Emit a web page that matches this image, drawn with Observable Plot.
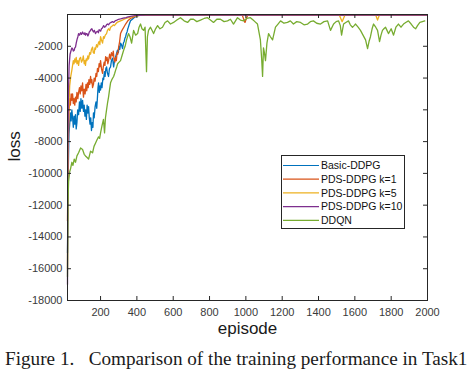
<!DOCTYPE html>
<html><head><meta charset="utf-8">
<script src="https://cdn.jsdelivr.net/npm/d3@7"></script>
<script src="https://cdn.jsdelivr.net/npm/@observablehq/plot@0.6"></script>
<style>
html,body{margin:0;padding:0;background:#fff;}
body{width:474px;height:371px;overflow:hidden;position:relative;font-family:"Liberation Sans",Arial,sans-serif;}
#chart{position:absolute;left:0;top:0;}
#cap{position:absolute;left:5px;top:349px;font-family:"Liberation Serif","Times New Roman",serif;font-size:19.2px;white-space:nowrap;color:#1a1a1a;line-height:20px;}
</style></head>
<body><div id="chart"></div><div id="cap">Figure 1.&nbsp;&nbsp;&nbsp;Comparison of the training performance in Task1</div>
<script>
const seriesNames = ["Basic-DDPG", "PDS-DDPG k=1", "PDS-DDPG k=5", "PDS-DDPG k=10", "DDQN"];
const seriesColors = ["#0072BD", "#D95319", "#EDB120", "#7E2F8E", "#77AC30"];
const xTicks = [200, 400, 600, 800, 1000, 1200, 1400, 1600, 1800, 2000];
const yTicks = [-18000, -16000, -14000, -12000, -10000, -8000, -6000, -4000, -2000];

const epBasic = [18,22,26,30,34,38,42,46,50,54,58,62,66,70,74,79,84,88,92,97,101,106,110,114,118,122,126,130,134,138,142,146,150,154,158,161,165,170,175,179,183,186,189,193,197,200,204,208,213,217,221,225,229,233,238,244,249,255,260,266,272,277,282,287,293,298,302,306,310,315,321,326,330,334,338,342,346,350,353,357,360,365,370,375,384,395,411,450,500,800,1200,1600,2000];
const lossBasic = [-15000,-10000,-7500,-6900,-6200,-6700,-6000,-6500,-7100,-6400,-6900,-6300,-7200,-6800,-6000,-6300,-5500,-6100,-5300,-5900,-5400,-6100,-5700,-6400,-6000,-6600,-5700,-6200,-5800,-6500,-6900,-6500,-7300,-6800,-7100,-6200,-6500,-5800,-5500,-5900,-5200,-4600,-4300,-4900,-4500,-4750,-4300,-4600,-4000,-4100,-3600,-3900,-3400,-3300,-3700,-3900,-3400,-3300,-2900,-2750,-3300,-2900,-2700,-2500,-2250,-2400,-2000,-2200,-1800,-1900,-2150,-1800,-1700,-1500,-1400,-1200,-1100,-900,-800,-650,-550,-400,-350,-300,-200,-120,-60,-40,-30,-35,-30,-35,-30];

const epK1 = [18,22,26,30,34,38,42,46,50,54,58,62,66,70,75,79,84,88,92,96,101,104,106,110,115,120,124,128,132,136,140,145,149,152,156,161,165,170,175,179,183,188,192,196,200,205,211,215,220,224,228,232,236,240,244,250,255,260,266,270,274,279,283,287,291,295,299,305,310,318,328,338,350,365,385,404,440,500,980,995,1010,1400,2000];
const lossK1 = [-13000,-8500,-6200,-5300,-5700,-5000,-5400,-5000,-5600,-5300,-5700,-5200,-5500,-4900,-5300,-4900,-4600,-5000,-4500,-4800,-4300,-4900,-5200,-4700,-5000,-4400,-4800,-4300,-4600,-4100,-4400,-3900,-4300,-4100,-4600,-4400,-4000,-4200,-3700,-3900,-3400,-3600,-3100,-3300,-2900,-3400,-3700,-3300,-3000,-3200,-2650,-2900,-2700,-3100,-2900,-2500,-2800,-2400,-2600,-2300,-2800,-3000,-2700,-2900,-2400,-2500,-2100,-1700,-1200,-1000,-800,-600,-400,-250,-150,-60,-40,-30,-40,-500,-40,-35,-30];

const epK5 = [18,21,25,30,36,42,46,50,54,58,62,66,70,75,79,84,90,95,101,105,110,114,117,121,125,130,134,140,145,150,156,160,165,169,172,178,183,188,192,196,200,205,211,216,220,226,233,238,244,250,255,262,270,276,283,291,300,310,320,330,340,355,370,385,400,420,440,500,1515,1530,1545,1715,1725,1735,2000];
const lossK5 = [-16000,-9000,-6000,-4500,-3900,-3500,-3200,-2900,-3100,-2800,-3000,-2700,-3100,-2900,-3200,-2800,-2700,-3000,-2850,-2600,-3100,-2900,-3200,-2800,-2900,-2600,-2800,-2400,-2500,-2200,-2050,-2400,-2450,-2100,-2200,-1900,-2050,-1800,-1700,-1900,-1400,-1600,-1800,-1400,-1500,-1300,-1200,-1000,-900,-1000,-800,-750,-650,-700,-600,-500,-450,-400,-350,-300,-250,-200,-150,-120,-80,-50,-40,-30,-40,-450,-40,-40,-350,-40,-30];

const epK10 = [18,20,23,27,32,38,42,46,50,55,58,62,66,70,75,79,84,90,95,101,105,110,114,117,121,125,130,134,138,142,147,152,156,161,166,172,177,183,188,192,196,200,205,210,217,222,228,233,238,244,250,258,266,273,280,290,299,310,320,330,340,352,365,380,400,450,2000];
const lossK10 = [-17000,-9000,-5000,-3200,-2500,-2250,-2100,-2150,-2300,-2250,-2100,-2050,-1800,-1600,-1400,-1200,-1300,-1150,-1250,-1100,-1200,-1250,-1150,-1300,-1200,-1200,-1350,-1250,-1100,-1050,-950,-900,-1000,-1100,-1000,-1200,-1100,-1050,-1150,-950,-1000,-1050,-900,-850,-700,-800,-750,-650,-600,-650,-550,-500,-450,-500,-400,-350,-300,-280,-250,-220,-200,-150,-120,-90,-60,-40,-30];

const epDDQN = [18,20,24,30,35,42,48,55,62,70,79,90,101,110,117,126,134,145,156,164,172,180,189,195,200,208,216,222,227,233,238,244,250,255,262,272,278,283,289,294,302,310,318,327,335,343,354,362,371,382,393,404,412,420,428,437,445,453,458,464,475,492,503,514,527,541,555,569,585,602,620,640,660,679,695,712,730,750,770,789,805,822,840,860,880,899,915,932,954,970,987,1005,1025,1045,1064,1080,1087,1092,1097,1102,1108,1116,1125,1135,1147,1163,1177,1191,1210,1229,1245,1262,1280,1301,1320,1340,1355,1372,1390,1411,1430,1450,1466,1483,1497,1510,1520,1527,1533,1538,1550,1565,1575,1587,1596,1604,1618,1631,1645,1659,1670,1678,1686,1695,1703,1715,1725,1736,1744,1752,1760,1769,1777,1785,1800,1813,1826,1840,1854,1868,1880,1895,1910,1923,1935,1945,1958,1972,1985,2000];
const lossDDQN = [-16500,-12000,-10500,-9900,-9700,-9300,-9500,-9100,-9300,-8900,-8700,-8400,-8500,-8800,-8900,-9000,-9100,-8600,-8700,-8300,-8100,-7900,-7700,-7800,-7450,-7000,-6600,-7450,-6500,-6000,-5600,-5200,-4700,-4300,-4100,-3900,-3700,-3500,-3300,-3100,-3000,-2900,-2600,-2250,-2000,-1600,-1200,-1400,-1800,-1000,-1300,-1200,-800,-600,-900,-1000,-800,-3600,-1400,-1000,-800,-1200,-900,-700,-900,-800,-500,-400,-600,-500,-350,-200,-400,-500,-300,-300,-450,-350,-250,-200,-350,-500,-300,-300,-450,-400,-300,-600,-200,-350,-400,-250,-200,-400,-600,-1600,-2800,-3900,-2100,-2400,-2900,-1800,-1200,-1400,-1600,-800,-600,-400,-550,-500,-400,-600,-450,-500,-650,-600,-450,-400,-550,-600,-450,-400,-1000,-600,-450,-400,-700,-1300,-900,-600,-500,-400,-650,-800,-700,-600,-800,-1000,-1300,-1600,-2150,-1700,-1400,-900,-600,-800,-1000,-1700,-1300,-1000,-900,-800,-1000,-1200,-900,-1300,-800,-600,-800,-600,-500,-400,-600,-800,-900,-700,-500,-450,-400];

const epArrays = [epBasic, epK1, epK5, epK10, epDDQN];
const lossArrays = [lossBasic, lossK1, lossK5, lossK10, lossDDQN];

const rows = seriesNames.flatMap((name, s) =>
  epArrays[s].map((e, i) => ({series: name, episode: e, loss: lossArrays[s][i]})));

const W = 474, H = 342, mL = 67, mR = 47, mT = 14, mB = 42;
const plotW = W - mL - mR, plotH = H - mT - mB;
const tickLen = 4;

const chart = Plot.plot({
  width: W, height: H,
  marginLeft: mL, marginRight: mR, marginTop: mT, marginBottom: mB,
  style: {fontFamily: "'Liberation Sans', Arial, sans-serif", background: "#fff"},
  x: {domain: [18, 2000]},
  y: {domain: [-18000, 0]},
  color: {domain: seriesNames, range: seriesColors},
  marks: [
    Plot.line(rows, {x: "episode", y: "loss", z: "series", stroke: "series", strokeWidth: 1.3}),
    Plot.frame({stroke: "#262626", strokeWidth: 1}),
    Plot.tickX(xTicks, {x: d => d, stroke: "#262626", insetTop: plotH - tickLen}),
    Plot.tickX(xTicks, {x: d => d, stroke: "#262626", insetBottom: plotH - tickLen}),
    Plot.tickY(yTicks, {y: d => d, stroke: "#262626", insetRight: plotW - tickLen}),
    Plot.tickY(yTicks, {y: d => d, stroke: "#262626", insetLeft: plotW - tickLen}),
    Plot.axisX(xTicks, {tickSize: 0, tickPadding: 8, fontSize: 11, fill: "#3a3a3a", label: null, tickFormat: d => String(d)}),
    Plot.axisY(yTicks, {tickSize: 0, tickPadding: 5, fontSize: 11, fill: "#3a3a3a", label: null, tickFormat: d => String(d)}),
    Plot.text(["episode"], {frameAnchor: "bottom", dy: 33, fontSize: 17, fill: "#1a1a1a", text: d => d}),
    Plot.text(["loss"], {frameAnchor: "left", dx: -53, dy: 4, rotate: -90, fontSize: 17, fill: "#1a1a1a", text: d => d})
  ]
});
document.getElementById("chart").appendChild(chart);

// legend box inside the plot area
const svg = d3.select(chart);
const lg = svg.append("g")
  .attr("font-family", "'Liberation Sans', Arial, sans-serif")
  .attr("font-size", 10.5)
  .attr("text-anchor", "start");
lg.append("rect").attr("x", 281.5).attr("y", 155.5).attr("width", 123).attr("height", 73)
  .attr("fill", "#fff").attr("stroke", "#262626");
seriesNames.forEach((name, i) => {
  const y = 165.5 + i * 13.7;
  lg.append("line").attr("x1", 283).attr("x2", 319).attr("y1", y).attr("y2", y)
    .attr("stroke", seriesColors[i]).attr("stroke-width", 1.2);
  lg.append("text").attr("x", 321).attr("y", y).attr("dy", "0.35em")
    .attr("text-anchor", "start").attr("fill", "#111").text(name);
});
</script></body></html>
